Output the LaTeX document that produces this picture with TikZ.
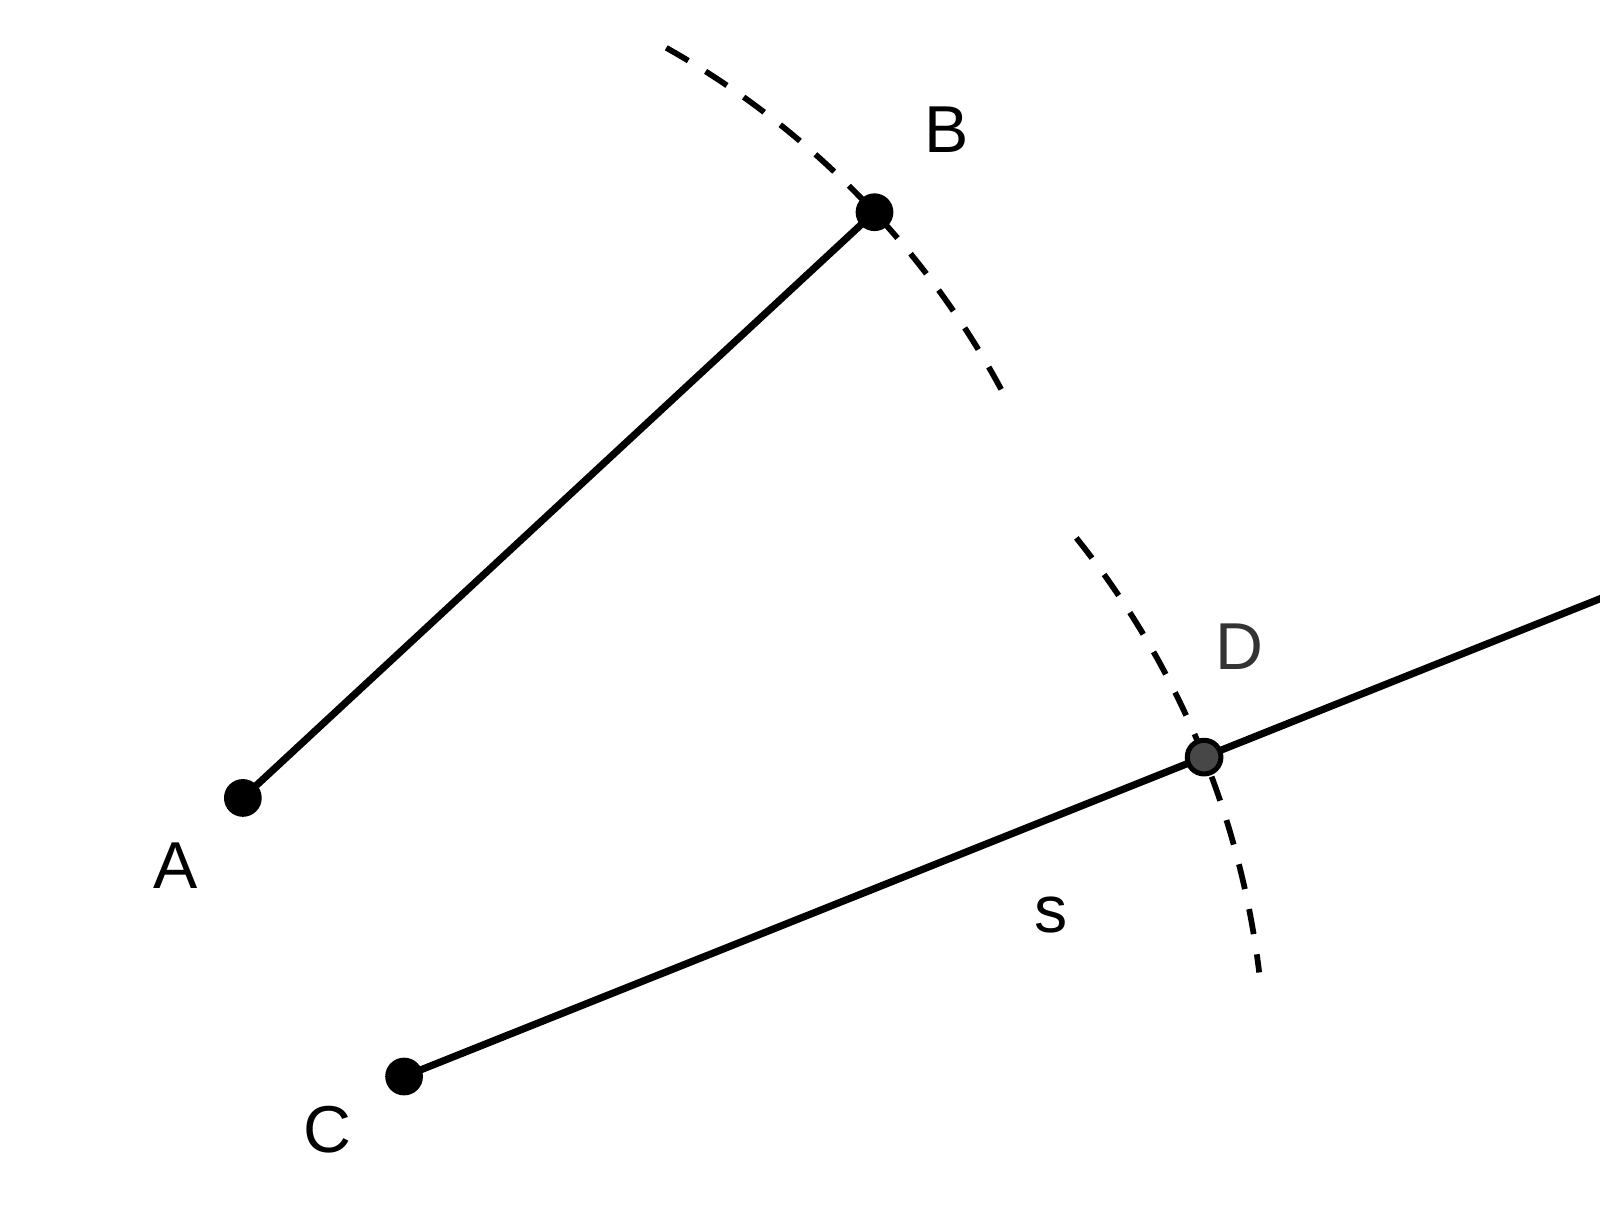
\documentclass[tikz,border=0pt]{standalone}
\usepackage{fontspec}
\setmainfont{Liberation Sans}
\usetikzlibrary{calc}
\tikzset{
  pt/.style={circle,fill=black,inner sep=0pt,minimum size=0.37cm},
  ptD/.style={circle,draw=black,line width=1.4pt,fill=black!72,inner sep=0pt,minimum size=0.33cm},
  seg/.style={line width=2pt},
  arcline/.style={line width=1.6pt,dash pattern=on 0.25cm off 0.2cm},
  lbl/.style={font=\fontsize{18.5}{22}\selectfont,inner sep=0pt}
}
\begin{document}
\begin{tikzpicture}
                        \useasboundingbox (0,0.24) rectangle (15.68,12.17);
                        \coordinate (A) at (2.38,4.35);
                        \coordinate (B) at (8.57,10.09);
                        \coordinate (C) at (3.96,1.62);
                        \coordinate (D) at (11.80,4.75);
                        \coordinate (E) at (15.70,6.31);
                        % compass arcs, radius AB
                        \draw[arcline] ($(A)+(60.56:8.442)$) arc[start angle=60.56,end angle=27.6,radius=8.442];
                        \draw[arcline] ($(C)+(38.7:8.442)$) arc[start angle=38.7,end angle=6.94,radius=8.442];
                        \draw[seg] (A) -- (B);
                        \draw[seg] (C) -- (E);
                        \node[pt] (a) at (A) {};
                        \node[pt] (b) at (B) {};
                        \node[pt] (c) at (C) {};
                        \node[ptD] (d) at (D) {};
                        \node[lbl] at (1.72,3.69) {A};
                        \node[lbl] at (9.28,10.90) {B};
                        \node[lbl] at (3.21,1.10) {C};
                        \node[lbl,text=black!80] at (12.15,5.83) {D};
                        \node[lbl] at (10.30,3.20) {s};
                    \end{tikzpicture}
\end{document}
